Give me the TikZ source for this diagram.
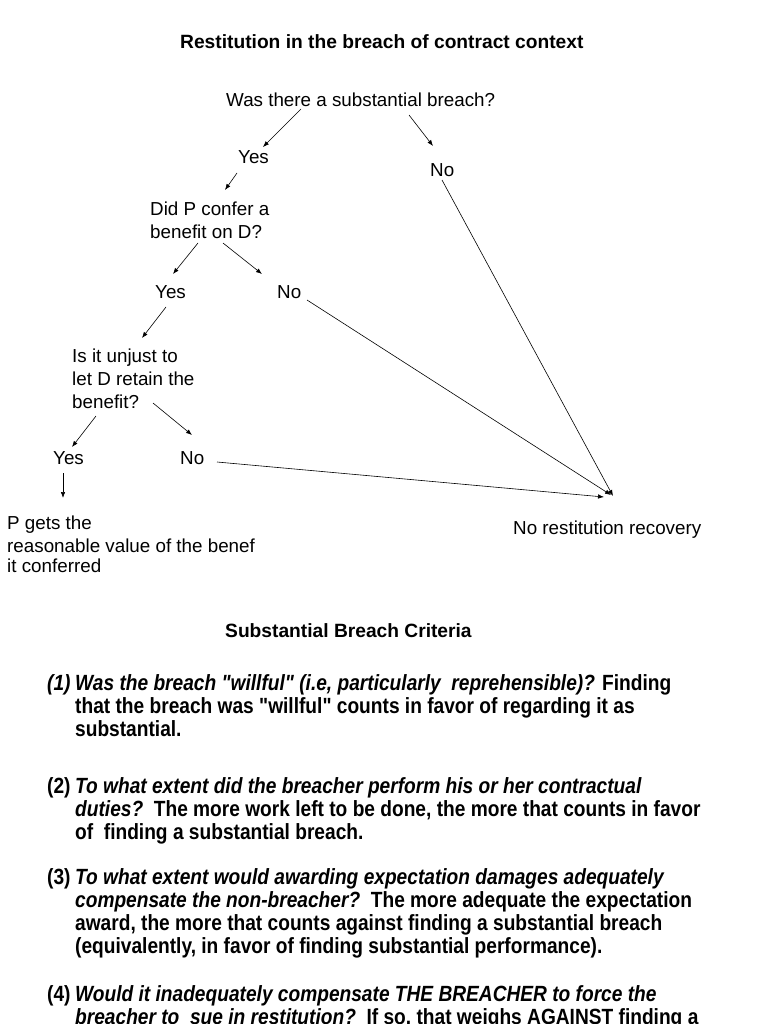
\documentclass[tikz,border=0pt]{standalone}
\usepackage{fontspec}
\setmainfont{Liberation Sans}
\newfontfamily\narrowfont[FakeStretch=0.87]{Liberation Sans}
\usetikzlibrary{calc,arrows.meta}

\begin{document}
\begin{tikzpicture}[x=1pt, y=-1pt,
  every node/.style={anchor=base west, inner sep=0pt},
  txt/.style={font=\fontsize{18.8}{23}\selectfont, align=left},
  ttl/.style={font=\bfseries\fontsize{19.2}{23}\selectfont},
  crit/.style={font=\narrowfont\bfseries\fontsize{22}{23}\selectfont, align=left},
  arr/.style={-{Latex[length=6pt,width=4.5pt]}, line width=0.6pt}]
\useasboundingbox (0,0) rectangle (768,1024);
\clip (0,0) rectangle (768,1024);

\node[ttl] at (180,49) (Title) {Restitution in the breach of contract context};

\node[txt] at (226,107) (Q1) {Was there a substantial breach?};
\node[txt] at (238,164) (Yes1) {Yes};
\node[txt] at (430,177) (No1) {No};
\node[txt] at (150,238) (DidP) {Did P confer a\\benefit on D?};
\node[txt] at (155,298) (Yes2) {Yes};
\node[txt] at (277,298) (No2) {No};
\node[txt] at (72,408) (Unjust) {Is it unjust to\\let D retain the\\benefit?};
\node[txt] at (53,464) (Yes3) {Yes};
\node[txt] at (180,464) (No3) {No};
\node[txt] at (7,572) (PGets) {P gets the\\reasonable value of the benef\\[-3pt]it conferred};
\node[txt] at (513,534) (NoRec) {No restitution recovery};

\draw[arr] ($(Q1.base west)+(75,2)$) -- ($(Yes1.base west)+(25,-17)$);
\draw[arr] ($(Q1.base west)+(183,8)$) -- ($(No1.base west)+(3,-31)$);
\draw[arr] ($(Yes1.base west)+(-1,9)$) -- ($(DidP.base west)+(75,-48)$);
\draw[arr] ($(DidP.base west)+(48,5)$) -- ($(Yes2.base west)+(18,-24)$);
\draw[arr] ($(DidP.base west)+(73,5)$) -- ($(No2.base west)+(-15,-24)$);
\draw[arr] ($(Yes2.base west)+(11,9)$) -- ($(Unjust.base west)+(70,-70)$);
\draw[arr] ($(Unjust.base west)+(24,8)$) -- ($(Yes3.base west)+(19,-17)$);
\draw[arr] ($(Unjust.base west)+(81,-5)$) -- ($(No3.base west)+(12,-29)$);
\draw[arr] ($(Yes3.base west)+(10,9)$) -- ($(PGets.base west)+(56,-74)$);
\draw[arr] ($(No1.base west)+(12,3)$) -- ($(NoRec.base west)+(100,-38)$);
\draw[arr] ($(No2.base west)+(30,2)$) -- ($(NoRec.base west)+(98,-39)$);
\draw[arr] ($(No3.base west)+(37,-2)$) -- ($(NoRec.base west)+(91,-37)$);

\node[ttl] at (225,637) (Crit) {Substantial Breach Criteria};

\node[crit] at (47,690) (L1) {\itshape(1)};
\node[crit] at (75,736) (C1) {\itshape Was the breach "willful" (i.e, particularly\ \ reprehensible)?\upshape{} Finding\\that the breach was "willful" counts in favor of regarding it as\\substantial.};
\node[crit] at (47,793) (L2) {(2)};
\node[crit] at (75,839) (C2) {\itshape To what extent did the breacher perform his or her contractual\\\itshape duties?\upshape\ \ The more work left to be done, the more that counts in favor\\of\ \ finding a substantial breach.};
\node[crit] at (47,884) (L3) {(3)};
\node[crit] at (75,953) (C3) {\itshape To what extent would awarding expectation damages adequately\\\itshape compensate the non-breacher?\upshape\ \ The more adequate the expectation\\award, the more that counts against finding a substantial breach\\(equivalently, in favor of finding substantial performance).};
\node[crit] at (47,1001) (L4) {(4)};
\node[crit] at (75,1024) (C4) {\itshape Would it inadequately compensate THE BREACHER to force the\\\itshape breacher to\ \ sue in restitution?\upshape\ \ If so, that weighs AGAINST finding a};
\end{tikzpicture}
\end{document}
